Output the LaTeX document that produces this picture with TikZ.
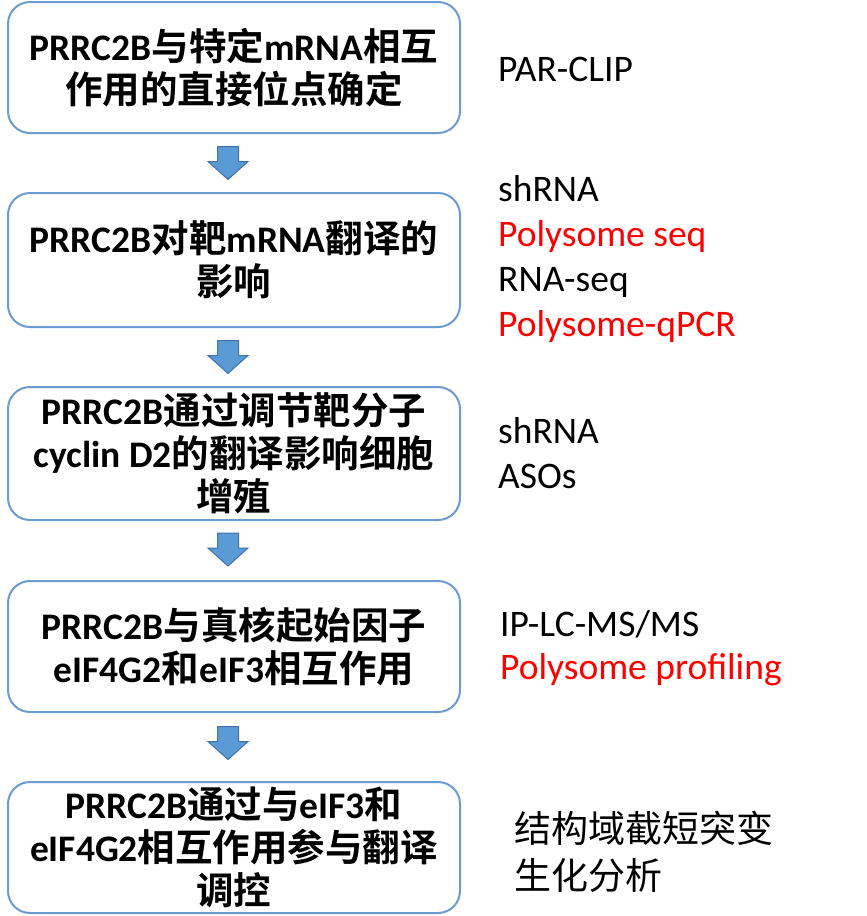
\documentclass[tikz,border=0pt]{standalone}
\usepackage{fontspec}
\setmainfont{Carlito}
\newfontfamily\zh{Noto Sans CJK SC}[BoldFont={Noto Sans CJK SC Bold}]
\usetikzlibrary{calc}
\definecolor{boxline}{RGB}{108,155,210}
\definecolor{arrfill}{RGB}{91,155,213}
\definecolor{arrline}{RGB}{65,113,170}
\definecolor{txtred}{RGB}{255,0,0}
\newcommand\zb[1]{{\zh\bfseries #1}}
\tikzset{
  stepbox/.style={draw=boxline, line width=2pt, rounded corners=22pt, fill=white,
    minimum width=452pt, align=center, inner sep=0pt,
    font=\fontsize{37.5}{43}\selectfont\bfseries},
  lab/.style={anchor=base west, inner sep=0pt, font=\fontsize{37.5}{45}\selectfont},
  pics/downarrow/.style={code={
    \draw[fill=arrfill, draw=arrline, line width=1pt, line join=miter]
      (-10.5,-16.5) -- (10.5,-16.5) -- (10.5,-1.5) -- (20,-1.5) -- (0,16.5)
      -- (-20,-1.5) -- (-10.5,-1.5) -- cycle;}}
}
\begin{document}
\begin{tikzpicture}[x=1pt,y=-1pt]
\useasboundingbox[fill=white] (0,0) rectangle (867,916);

\node[stepbox, minimum height=131pt] (b1) at (234,67.5)
  {PRRC2B\zb{与特定}mRNA\zb{相互}\\\zb{作用的直接位点确定}};
\node[stepbox, minimum height=134pt] (b2) at (234,260)
  {PRRC2B\zb{对靶}mRNA\zb{翻译的}\\\zb{影响}};
\node[stepbox, minimum height=133pt] (b3) at (234,453.5)
  {PRRC2B\zb{通过调节靶分子}\\cyclin D2\zb{的翻译影响细胞}\\\zb{增殖}};
\node[stepbox, minimum height=131pt] (b4) at (234,646.5)
  {PRRC2B\zb{与真核起始因子}\\eIF4G2\zb{和}eIF3\zb{相互作用}};
\node[stepbox, minimum height=131pt] (b5) at (234,847.5)
  {PRRC2B\zb{通过与}eIF3\zb{和}\\eIF4G2\zb{相互作用参与翻译}\\\zb{调控}};

\pic at ($(b1.south)!0.5!(b2.north)+(-6,0)$) {downarrow};
\pic at ($(b2.south)!0.5!(b3.north)+(-6,0)$) {downarrow};
\pic at ($(b3.south)!0.5!(b4.north)+(-6,-1)$) {downarrow};
\pic at ($(b4.south)!0.5!(b5.north)+(-6,-4)$) {downarrow};

\node[lab] (t1) at (498,81) {PAR-CLIP};

\node[lab] (t2a) at (498,201) {shRNA};
\node[lab, text=txtred] (t2b) at (498,246) {Polysome seq};
\node[lab] (t2c) at (498,291) {RNA-seq};
\node[lab, text=txtred] (t2d) at (498,336) {Polysome-qPCR};

\node[lab] (t3a) at (498,443) {shRNA};
\node[lab] (t3b) at (498,488) {ASOs};

\node[lab] (t4a) at (500,636) {IP-LC-MS/MS};
\node[lab, text=txtred] (t4b) at (500,679) {Polysome profiling};

\node[lab, font=\fontsize{37}{45}\selectfont\zh] (t5a) at (514,842) {结构域截短突变};
\node[lab, font=\fontsize{37}{45}\selectfont\zh] (t5b) at (514,889) {生化分析};
\end{tikzpicture}
\end{document}
